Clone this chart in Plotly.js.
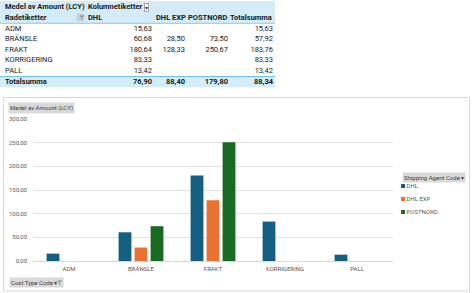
<!DOCTYPE html>
<html>
<head>
<meta charset="utf-8">
<script src="https://cdn.plot.ly/plotly-3.0.1.min.js"></script>
<style>html,body{margin:0;padding:0;background:#fff;}#chart{width:474px;height:293px;}</style>
</head>
<body>
<div id="chart"></div>
<script>
// ---- data ----
const categories = ["ADM", "BRÄNSLE", "FRAKT", "KORRIGERING", "PALL"];
const seriesNames = ["DHL", "DHL EXP", "POSTNORD"];
const dhl = [15.63, 60.68, 180.64, 83.33, 13.42];
const dhlExp = [null, 28.50, 128.33, null, null];
const postnord = [null, 73.50, 250.67, null, null];
const rowTotals = [15.63, 57.92, 183.76, 83.33, 13.42];
const colTotals = [76.90, 88.40, 179.80];
const grandTotal = 88.34;
const yTickVals = [0, 50, 100, 150, 200, 250, 300];
const valueTitle = "Medel av Amount (LCY)";
const rowFieldTitle = "Radetiketter";
const colFieldTitle = "Kolumnetiketter";
const totalLabel = "Totalsumma";
const legendTitle = "Shipping Agent Code";
const axisFieldTitle = "Cost Type Code";

// ---- styling / layout constants ----
const colors = ["#156082", "#E97132", "#196B24"];
const W = 474, H = 293;
const FONT = "Roboto, 'Liberation Sans', Arial, sans-serif";
const txt = "#1a1a1a", grey = "#595959";
const rowTop = 2, rowH = 10.65;
const labelX = 5;
const headLeft = [88, 156, 188, 230];
const valRight = [152, 185, 228, 273];
const tableRight = 275;
const rc = r => rowTop + rowH * (r + 0.5);
const fmt = v => (v == null ? "" : v.toFixed(2).replace(".", ","));
const seriesVals = [dhl, dhlExp, postnord];

const traces = [];
// chart bars
seriesVals.forEach((vals, k) => {
  traces.push({
    type: "bar", x: categories, y: vals, name: seriesNames[k],
    marker: {color: colors[k]}, xaxis: "x", yaxis: "y", showlegend: false
  });
});

// table: label column
const labelTexts = ["<b>" + valueTitle + "</b>", "<b>" + rowFieldTitle + "</b>"]
  .concat(categories).concat(["<b>" + totalLabel + "</b>"]);
traces.push({
  type: "scatter", mode: "text", xaxis: "x2", yaxis: "y2",
  x: labelTexts.map(() => labelX), y: labelTexts.map((_, i) => rc(i)),
  text: labelTexts, textposition: "middle right",
  textfont: {family: FONT, size: 7.5, color: txt}, showlegend: false
});
// table: header texts
const headTexts = ["<b>" + colFieldTitle + "</b>"].concat(seriesNames.map(s => "<b>" + s + "</b>")).concat(["<b>" + totalLabel + "</b>"]);
traces.push({
  type: "scatter", mode: "text", xaxis: "x2", yaxis: "y2",
  x: [headLeft[0]].concat(headLeft), y: [rc(0), rc(1), rc(1), rc(1), rc(1)],
  text: headTexts, textposition: "middle right",
  textfont: {family: FONT, size: 7.5, color: txt}, showlegend: false
});
// table: value columns
const columns = seriesVals.concat([rowTotals]);
const colGrand = colTotals.concat([grandTotal]);
columns.forEach((vals, k) => {
  const t = vals.map(fmt).concat(["<b>" + fmt(colGrand[k]) + "</b>"]);
  traces.push({
    type: "scatter", mode: "text", xaxis: "x2", yaxis: "y2",
    x: t.map(() => valRight[k]), y: t.map((_, i) => rc(i + 2)),
    text: t, textposition: "middle left",
    textfont: {family: FONT, size: 7.5, color: txt}, showlegend: false
  });
});

// custom legend
const legX = 403, legY0 = 186, legStep = 13;
traces.push({
  type: "scatter", mode: "markers+text", xaxis: "x2", yaxis: "y2",
  x: seriesNames.map(() => legX), y: seriesNames.map((_, i) => legY0 + i * legStep),
  text: seriesNames, textposition: "middle right",
  marker: {symbol: "square", size: 4, color: colors},
  textfont: {family: FONT, size: 6, color: grey}, showlegend: false
});

const shapes = [
  // header band
  {type: "rect", xref: "x2", yref: "y2", x0: 0, x1: tableRight, y0: rowTop - 1, y1: rowTop + 2 * rowH, fillcolor: "#D3ECF8", line: {width: 0}, layer: "below"},
  {type: "line", xref: "x2", yref: "y2", x0: 0, x1: tableRight, y0: rowTop + 2 * rowH, y1: rowTop + 2 * rowH, line: {color: "#8FCBEA", width: 1}, layer: "below"},
  // total band
  {type: "rect", xref: "x2", yref: "y2", x0: 0, x1: tableRight, y0: rowTop + 7 * rowH, y1: rowTop + 8 * rowH, fillcolor: "#D3ECF8", line: {width: 0}, layer: "below"},
  {type: "line", xref: "x2", yref: "y2", x0: 0, x1: tableRight, y0: rowTop + 7 * rowH, y1: rowTop + 7 * rowH, line: {color: "#6FBCE3", width: 1}, layer: "below"},
  // chart frame
  {type: "rect", xref: "x2", yref: "y2", x0: 3.5, x1: 469.5, y0: 97.5, y1: 291, line: {color: "#D9D9D9", width: 1}, layer: "below"}
];

const btn = (x, y, text) => ({
  xref: "x2", yref: "y2", x: x, y: y, xanchor: "left", yanchor: "middle",
  text: text, showarrow: false, bgcolor: "#D9D9D9", borderpad: 1,
  font: {family: FONT, size: 6, color: "#404040"}
});

const annotations = [
  btn(8, 108, valueTitle),
  btn(402, 177, legendTitle + " ▾"),
  btn(9, 282.5, axisFieldTitle + " ▾⊤"),
  // dropdown on column field
  {xref: "x2", yref: "y2", x: 146, y: 7.3, xanchor: "center", yanchor: "middle", text: "▾", showarrow: false,
   bgcolor: "#ffffff", bordercolor: "#A6A6A6", borderwidth: 1, borderpad: 0, font: {family: FONT, size: 6, color: "#404040"}},
  // filter icon on row field
  {xref: "x2", yref: "y2", x: 80.5, y: 17.9, xanchor: "center", yanchor: "middle", text: ".⊤", showarrow: false,
   bgcolor: "#C9D3DA", borderpad: 0, font: {family: FONT, size: 6, color: "#303030"}}
];

const layout = {
  width: W, height: H, margin: {l: 0, r: 0, t: 0, b: 0},
  paper_bgcolor: "#ffffff", plot_bgcolor: "rgba(0,0,0,0)",
  separators: ", ", showlegend: false, hovermode: false,
  barmode: "group", bargap: 0.333, bargroupgap: 0.2,
  font: {family: FONT, color: grey},
  xaxis: {domain: [33 / W, 393 / W], type: "category", showgrid: false, showline: false, zeroline: false,
    ticks: "", tickfont: {family: FONT, size: 6, color: grey}, ticklabelstandoff: 3, fixedrange: true},
  yaxis: {domain: [(H - 261) / H, (H - 119) / H], range: [0, 300], tickvals: yTickVals, tickformat: ".2f",
    showgrid: true, gridcolor: "#E3E3E3", gridwidth: 1, zeroline: true, zerolinecolor: "#D9D9D9", zerolinewidth: 1,
    showline: false, ticks: "", tickfont: {family: FONT, size: 6, color: grey}, ticklabelstandoff: 5, fixedrange: true},
  xaxis2: {domain: [0, 1], range: [0, W], visible: false, anchor: "y2", fixedrange: true},
  yaxis2: {domain: [0, 1], range: [H, 0], visible: false, anchor: "x2", fixedrange: true},
  shapes: shapes, annotations: annotations
};

Plotly.newPlot("chart", traces, layout, {staticPlot: true, displayModeBar: false});
</script>
</body>
</html>
